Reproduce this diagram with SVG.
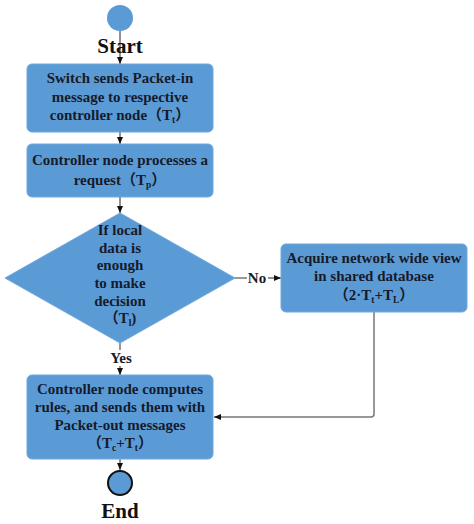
<svg xmlns="http://www.w3.org/2000/svg" width="474" height="524" viewBox="0 0 474 524">
<defs>
<style>
.n{fill:#5b9bd5;stroke:#6fa8dc;stroke-width:1}
.t{font-family:"Liberation Serif","Noto Sans CJK SC",serif;font-weight:bold;font-size:15px;fill:#171a2b;text-anchor:middle}
.big{font-family:"Liberation Serif",serif;font-weight:bold;font-size:21px;fill:#111;text-anchor:middle}
.c{stroke:#222;stroke-width:1;fill:none}
.g{stroke:#777;stroke-width:1.5;fill:none}
.s{font-size:9.5px}
</style>
<marker id="a" markerWidth="8" markerHeight="8" refX="7" refY="4" orient="auto" markerUnits="userSpaceOnUse">
<path d="M0,1 L7,4 L0,7 Z" fill="#111"/>
</marker>
</defs>
<rect width="474" height="524" fill="#fff"/>
<g id="connectors">
<line class="c" x1="120" y1="31" x2="120" y2="64" marker-end="url(#a)"/>
<line class="c" x1="120" y1="132" x2="120" y2="144" marker-end="url(#a)"/>
<line class="c" x1="120" y1="197" x2="120" y2="213" marker-end="url(#a)"/>
<line class="g" x1="235" y1="278" x2="247" y2="278"/>
<line class="c" x1="268" y1="278" x2="281" y2="278" marker-end="url(#a)"/>
<line class="g" x1="120" y1="343" x2="120" y2="350"/>
<line class="c" x1="120" y1="366" x2="120" y2="375" marker-end="url(#a)"/>
<path class="g" d="M374,312 V414 Q374,417 371,417 H222"/>
<line class="c" x1="222" y1="417" x2="214" y2="417" marker-end="url(#a)"/>
<line class="c" x1="120" y1="459" x2="120" y2="470" marker-end="url(#a)"/>
<text class="t" x="257" y="283">No</text>
<text class="t" x="121" y="363">Yes</text>
</g>
<g id="start">
<circle cx="120" cy="18" r="13" fill="#5b9bd5"/>
<text class="big" x="120" y="53">Start</text>
</g>
<g id="n1">
<rect class="n" x="27" y="64" width="186" height="68" rx="5"/>
<text class="t" x="120" y="83">Switch sends Packet-in</text>
<text class="t" x="120" y="102">message to respective</text>
<text class="t" x="120" y="120">controller node（T<tspan class="s" dy="3">t</tspan><tspan dy="-3">）</tspan></text>
</g>
<g id="n2">
<rect class="n" x="27" y="144" width="186" height="53" rx="5"/>
<text class="t" x="120" y="165">Controller node processes a</text>
<text class="t" x="120" y="185">request（T<tspan class="s" dy="3">p</tspan><tspan dy="-3">）</tspan></text>
</g>
<g id="decision">
<polygon class="n" points="120,213 235,278 120,343 5,278"/>
<text class="t" x="120" y="235">If local</text>
<text class="t" x="120" y="253">data is</text>
<text class="t" x="120" y="270">enough</text>
<text class="t" x="120" y="288">to make</text>
<text class="t" x="120" y="306">decision</text>
<text class="t" x="120" y="323">（T<tspan class="s" dy="3">l</tspan><tspan dy="-3">)</tspan></text>
</g>
<g id="n3">
<rect class="n" x="281" y="244" width="186" height="68" rx="5"/>
<text class="t" x="374" y="263">Acquire network wide view</text>
<text class="t" x="374" y="281">in shared database</text>
<text class="t" x="374" y="300">（2·T<tspan class="s" dy="3">t</tspan><tspan dy="-3">+T</tspan><tspan class="s" dy="3">L</tspan><tspan dy="-3">）</tspan></text>
</g>
<g id="n4">
<rect class="n" x="27" y="375" width="186" height="84" rx="5"/>
<text class="t" x="120" y="394">Controller node computes</text>
<text class="t" x="120" y="412">rules, and sends them with</text>
<text class="t" x="120" y="430">Packet-out messages</text>
<text class="t" x="120" y="448">（T<tspan class="s" dy="3">c</tspan><tspan dy="-3">+T</tspan><tspan class="s" dy="3">t</tspan><tspan dy="-3">）</tspan></text>
</g>
<g id="end">
<circle cx="120" cy="483" r="12" fill="#5b9bd5" stroke="#111" stroke-width="2"/>
<text class="big" x="120" y="518">End</text>
</g>
</svg>
